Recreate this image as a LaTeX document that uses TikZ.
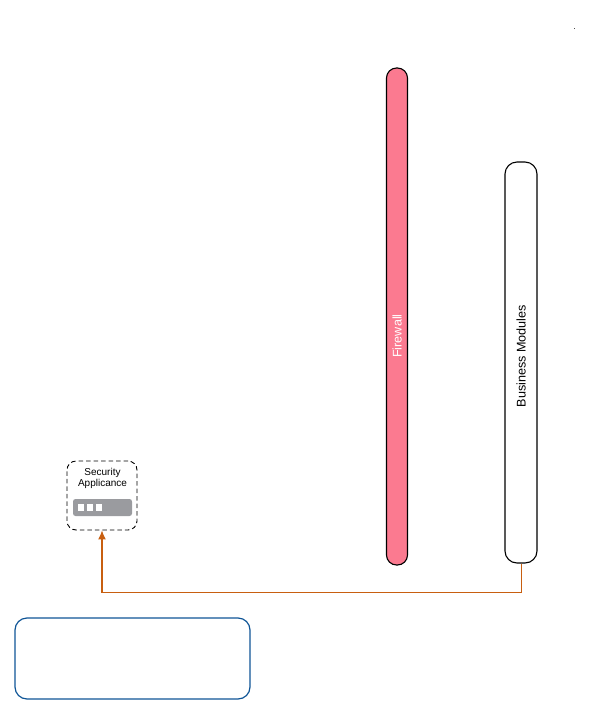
\documentclass[tikz,border=0pt]{standalone}
\usepackage{fontspec}
\setmainfont{Liberation Sans}
\usetikzlibrary{arrows.meta}
\definecolor{firewallpink}{HTML}{FB7A90}
\definecolor{linkorange}{HTML}{C85F10}
\definecolor{boxblue}{HTML}{0F5596}
\definecolor{bargray}{HTML}{9A9B9F}
\tikzset{
  pillbox/.style={draw=black, line width=1.1pt, rounded corners=#1, inner sep=0pt},
  pillbox/.default=10pt,
  pilltext/.style={rotate=90, inner sep=0pt, font=\fontsize{12.6}{14}\selectfont},
  portsquare/.style={fill=white, inner sep=0pt, minimum size=6.5pt},
  link/.style={draw=linkorange, line width=1.1pt, -{Latex[length=9pt,width=8pt]}},
}
\begin{document}
\begin{tikzpicture}[x=1pt, y=-1pt]
  \useasboundingbox (0,0) rectangle (595,713);

  % Tall bars
  \node[pillbox, fill=firewallpink, minimum width=21pt, minimum height=497pt] (firewall) at (397,316.5) {};
  \node[pilltext, text=white] (firewalltext) at (397,336) {Firewall};
  \node[pillbox=12pt, minimum width=32pt, minimum height=401pt] (modules) at (521,362.5) {};
  \node[pilltext] (modulestext) at (521,356) {Business Modules};

  % Appliance box with its device
  \node[draw=black, dash pattern=on 4.5pt off 3pt, line width=0.9pt, rounded corners=9pt, minimum width=70pt, minimum height=69pt, inner sep=0pt] (appliance) at (102,495.5) {};
  \node[font=\fontsize{10}{11}\selectfont, align=center, inner sep=0pt] (appliancetext) at (102.5,478) {Security\\Applicance};
  \node[fill=bargray, rounded corners=2.5pt, minimum width=59pt, minimum height=17pt, inner sep=0pt] (device) at (102.5,507.5) {};
  \node[portsquare] (port1) at (81,507.5) {};
  \node[portsquare] (port2) at (90,507.5) {};
  \node[portsquare] (port3) at (99,507.5) {};

  % Empty blue box
  \node[draw=boxblue, line width=1.2pt, rounded corners=12pt, minimum width=235pt, minimum height=81pt, inner sep=0pt] (legend) at (132.5,658.5) {};

  % Stray dot in the corner
  \node[fill=black!70, inner sep=0pt, minimum size=1pt] (dot) at (574.5,28) {};

  % Link from modules to appliance
  \coordinate (modulesbottom) at (modules.south);
  \coordinate (bend) at (521.8,592.5);
  \draw[link] (modulesbottom -| bend) -- (bend) -| (appliance.south);
\end{tikzpicture}
\end{document}
